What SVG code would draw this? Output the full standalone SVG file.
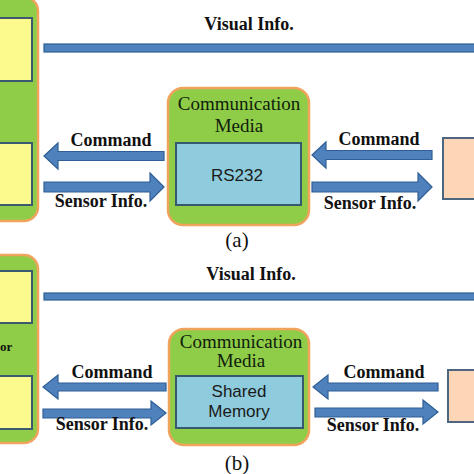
<svg xmlns="http://www.w3.org/2000/svg" width="474" height="474" viewBox="0 0 474 474">
<style>
.green{fill:#8fcd48;stroke:#f0a35c;stroke-width:2.5}
.yellow{fill:#fcfa8c;stroke:#3b5a70;stroke-width:2}
.inner{fill:#8ecbdc;stroke:#37596f;stroke-width:2}
.peach{fill:#fcd6b6;stroke:#4d6680;stroke-width:2}
.arrow{fill:#4f81bd;stroke:#2f5f96;stroke-width:1.2}
.lbl{font-family:"Liberation Serif",serif;font-weight:bold;font-size:18px;fill:#111}
.cm{font-family:"Liberation Serif",serif;font-size:19px;fill:#10200c;text-anchor:middle}
.sans{font-family:"Liberation Sans",Arial,sans-serif;font-size:17px;fill:#1a1a1a;text-anchor:middle}
.cap{font-family:"Liberation Serif",serif;font-size:21px;fill:#111;text-anchor:middle}
</style>
<rect width="474" height="474" fill="#fff"/>
<!-- Panel (a) -->
<g id="a-left">
<rect class="green" x="-20" y="-3" width="58" height="224" rx="14"/>
<rect class="yellow" x="-10" y="18" width="42" height="63"/>
<rect class="yellow" x="-10" y="143" width="42" height="62"/>
</g>
<g id="a-media">
<rect class="green" x="168" y="88" width="141" height="137" rx="15"/>
<text class="cm" x="239" y="110">Communication</text>
<text class="cm" x="239" y="132">Media</text>
<rect class="inner" x="176" y="143" width="125" height="62"/>
<text class="sans" x="237" y="181">RS232</text>
</g>
<g id="a-right">
<rect class="peach" x="443" y="138" width="40" height="61"/>
</g>
<g id="a-connectors">
<rect class="arrow" x="44" y="44" width="440" height="8"/>
<path class="arrow" d="M44,156 L58,143 L58,151.5 L164,151.5 L164,160.5 L58,160.5 L58,169 Z"/>
<path class="arrow" d="M164,187 L150,173 L150,182 L44,182 L44,192 L150,192 L150,201 Z"/>
<path class="arrow" d="M312,155 L326,142 L326,150.5 L432,150.5 L432,159.5 L326,159.5 L326,168 Z"/>
<path class="arrow" d="M432,187 L418,173 L418,182 L312,182 L312,192 L418,192 L418,201 Z"/>
</g>
<text class="lbl" x="249" y="30" text-anchor="middle">Visual Info.</text>
<text class="lbl" x="111" y="146" text-anchor="middle">Command</text>
<text class="lbl" x="101" y="207" text-anchor="middle">Sensor Info.</text>
<text class="lbl" x="379" y="145" text-anchor="middle">Command</text>
<text class="lbl" x="370" y="209" text-anchor="middle">Sensor Info.</text>
<text class="cap" x="237" y="247">(a)</text>
<!-- Panel (b) -->
<g id="b-left">
<rect class="green" x="-20" y="255" width="58" height="188" rx="14"/>
<rect class="yellow" x="-10" y="271" width="42" height="52"/>
<rect class="yellow" x="-10" y="376" width="42" height="53"/>
<text class="lbl" x="0" y="351" style="font-size:13px">or</text>
</g>
<g id="b-media">
<rect class="green" x="169" y="329" width="140" height="116" rx="15"/>
<text class="cm" x="241" y="348">Communication</text>
<text class="cm" x="241" y="367">Media</text>
<rect class="inner" x="176" y="376" width="127" height="52"/>
<text class="sans" x="239" y="397">Shared</text>
<text class="sans" x="239" y="417">Memory</text>
</g>
<g id="b-right">
<rect class="peach" x="448" y="370" width="40" height="52"/>
</g>
<g id="b-connectors">
<rect class="arrow" x="44" y="293" width="440" height="7"/>
<path class="arrow" d="M43,387 L58,375 L58,383 L166,383 L166,391 L58,391 L58,399 Z"/>
<path class="arrow" d="M166,413 L151,401 L151,409 L43,409 L43,418 L151,418 L151,425 Z"/>
<path class="arrow" d="M313,387 L328,375 L328,383 L438,383 L438,391 L328,391 L328,399 Z"/>
<path class="arrow" d="M438,412 L423,400 L423,408 L315,408 L315,417 L423,417 L423,424 Z"/>
</g>
<text class="lbl" x="251" y="280" text-anchor="middle">Visual Info.</text>
<text class="lbl" x="112" y="378" text-anchor="middle">Command</text>
<text class="lbl" x="102" y="430" text-anchor="middle">Sensor Info.</text>
<text class="lbl" x="384" y="378" text-anchor="middle">Command</text>
<text class="lbl" x="373" y="431" text-anchor="middle">Sensor Info.</text>
<text class="cap" x="237" y="470">(b)</text>
</svg>
